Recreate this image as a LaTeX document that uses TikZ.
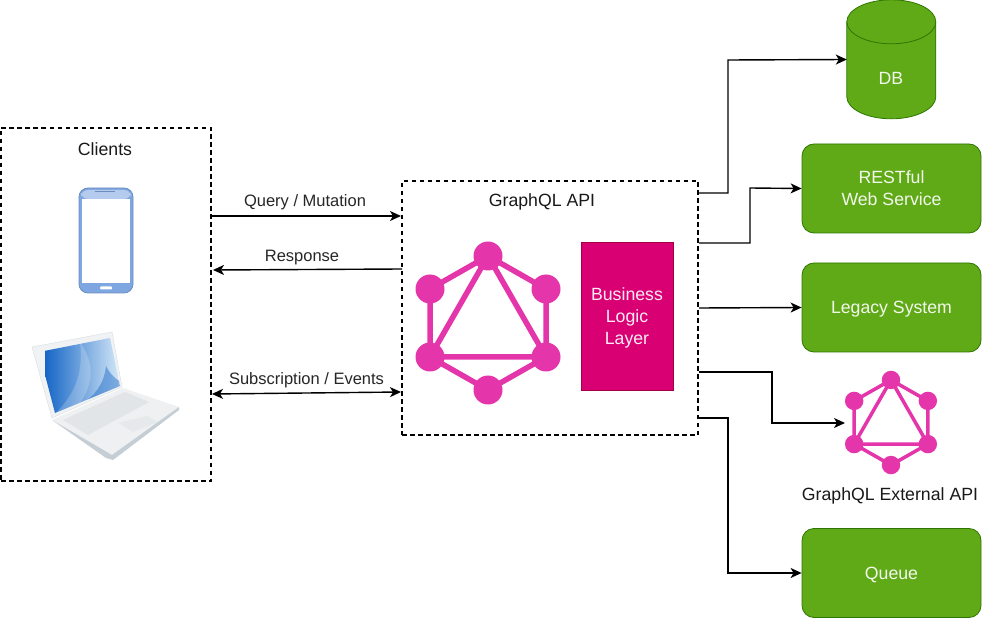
\documentclass[tikz,border=0pt]{standalone}
\usepackage{fontspec}
\setmainfont{Liberation Sans}
\usetikzlibrary{arrows.meta}
\definecolor{gqlpink}{HTML}{E535AB}
\definecolor{logicfill}{HTML}{D80073}
\definecolor{logicline}{HTML}{A50040}
\definecolor{svcfill}{HTML}{60A917}
\definecolor{svcline}{HTML}{2D7600}
\definecolor{phonefill}{HTML}{7EA6E0}
\definecolor{phoneline}{HTML}{6C8EBF}
\definecolor{phonetop}{HTML}{B4CBEE}
\definecolor{lidcol}{HTML}{F0F2F4}
\definecolor{basecol}{HTML}{EEF0F2}
\definecolor{keycol}{HTML}{E1E5E8}
\definecolor{padcol}{HTML}{E6E9EB}
\definecolor{rimcol}{HTML}{C5CED5}
\definecolor{screendark}{HTML}{1666C6}
\definecolor{screenlight}{HTML}{CFE4F6}
\definecolor{screenmid}{HTML}{8CCBEA}
\newcommand{\logolw}{5.5pt}
\tikzset{
  dashbox/.style={draw=black,line width=1.1pt,dash pattern=on 4.5pt off 3.5pt},
  title/.style={font=\fontsize{17.7}{22}\selectfont,text=black!90},
  lbl/.style={font=\fontsize{16.5}{20}\selectfont,text=black!85},
  whitetxt/.style={font=\fontsize{17.7}{22}\selectfont,text=white!92!svcfill,align=center,text depth=0pt},
  service/.style={whitetxt,draw=svcline,fill=svcfill,rounded corners=12pt,line width=.8pt,minimum width=179pt,minimum height=89pt,inner sep=0pt},
  conn/.style={draw=black,line width=1.4pt},
  gqlogo/.pic={
    \coordinate (-a) at (0,-67); \coordinate (-b) at (58,-34); \coordinate (-c) at (58,34);
    \coordinate (-d) at (0,67); \coordinate (-e) at (-58,34); \coordinate (-f) at (-58,-34);
    \draw[draw=gqlpink,line width=\logolw,line join=round] (-a) -- (-b) -- (-c) -- (-d) -- (-e) -- (-f) -- cycle;
    \draw[draw=gqlpink,line width=\logolw,line join=round] (-a) -- (-c) -- (-e) -- cycle;
    \foreach \v in {a,b,c,d,e,f} \fill[gqlpink] (-\v) circle (14.5);
  }
}
\begin{document}
\begin{tikzpicture}[x=1pt,y=-1pt,>={Stealth[length=11pt,width=10pt,inset=3pt]}]
\useasboundingbox (0,0) rectangle (983,620);
% clients
\node[dashbox,minimum width=210pt,minimum height=353pt,inner sep=0pt] (clients) at (106,304.5) {};
\node[title] (clientsTitle) at (105,149) {Clients};
\node[draw=phoneline,fill=phonefill,rounded corners=9pt,line width=.8pt,minimum width=54pt,minimum height=105pt,inner sep=0pt] (phone) at (106,240.5) {};
\fill[phonetop,rounded corners=7pt] (81,199) -- (81,190) -- (131,190) -- (131,199) -- cycle;
\node[fill=white,minimum width=47.5pt,minimum height=84pt,inner sep=0pt] (phoneScreen) at (106,241) {};
\node[fill=white,rounded corners=1pt,minimum width=12pt,minimum height=3pt,inner sep=0pt] (phoneButton) at (106,288) {};
\node[fill=phoneline,minimum width=20pt,minimum height=1.5pt,inner sep=0pt] (phoneSpeaker) at (105,191.5) {};
% laptop
\fill[basecol] (52,420) -- (123,388) -- (179,407) -- (112,458) -- cycle;
\fill[rimcol] (179,407) -- (179,410) -- (113,460) -- (106,458) -- (52,420) -- (112,455) -- cycle;
\fill[keycol] (63,420) -- (125,392) -- (149,402) -- (88,435) -- cycle;
\fill[padcol] (118,423) -- (147,416) -- (158,422) -- (133,432) -- cycle;
\fill[lidcol,draw=rimcol!60,line width=.5pt] (32,347) -- (112,332) -- (122,387) -- (52,418) -- cycle;
\begin{scope}
\clip (39,352) -- (110,338) -- (120,386) -- (55,413) -- cycle;
\shade[left color=screendark,middle color=screenmid,right color=screenlight] (45,332) rectangle (118,415);
\fill[screendark,opacity=.45] (120,388) -- (82,404) .. controls (94,396) and (104,385) .. (106,366) .. controls (110,374) and (116,380) .. (122,382) -- cycle;
\fill[white,opacity=.2] (56,413) .. controls (72,396) and (84,378) .. (80,342) .. controls (96,365) and (92,385) .. (80,403) -- cycle;
\end{scope}
% api
\node[dashbox,minimum width=296pt,minimum height=254pt,inner sep=0pt] (api) at (550,308) {};
\node[title] (apiTitle) at (542,202) {GraphQL API};
\pic (logoMain) at (488,323) {gqlogo};
\node[whitetxt,draw=logicline,fill=logicfill,minimum width=92pt,minimum height=148pt,inner sep=0pt,text=white!92!logicfill] (logic) at (627,316) {Business\\Logic\\Layer};
% backends
\node[minimum width=89pt,minimum height=119pt,inner sep=0pt] (db) at (891.5,59.5) {};
\filldraw[draw=svcline,fill=svcfill,line width=.8pt] (db.north west) ++(0,22) arc[start angle=180,end angle=0,x radius=44.5,y radius=-22] -- ++(0,75) arc[start angle=0,end angle=-180,x radius=44.5,y radius=-22] -- cycle;
\draw[draw=svcline,line width=.8pt] (db.north west) ++(0,22) arc[start angle=180,end angle=360,x radius=44.5,y radius=-22];
\node[whitetxt] (dbLbl) at (891,78.5) {DB};
\node[service] (rest) at (891.5,188.5) {RESTful\\Web Service};
\node[service] (legacy) at (891.5,307.5) {Legacy System};
\renewcommand{\logolw}{3.5pt}
\pic[scale=.635] (logoExt) at (891,422.5) {gqlogo};
\node[title] (extTitle) at (890,496) {GraphQL External API};
\node[service] (queue) at (891.5,573) {Queue};
\coordinate (extIn) at (845,423);
% client arrows
\coordinate (qA) at (212,216); \coordinate (qB) at (401,216);
\coordinate (rA) at (402,269); \coordinate (rB) at (213,270);
\coordinate (sA) at (212,394); \coordinate (sB) at (401,392);
\draw[conn,->] (qA) -- node[lbl,above=2pt,xshift=-1.5pt] (queryLbl) {Query / Mutation} (qB);
\draw[conn,->] (rA) -- node[lbl,above=1pt,xshift=-5.5pt] (respLbl) {Response} (rB);
\draw[conn,<->] (sA) -- node[lbl,above=1pt] (subLbl) {Subscription / Events} (sB);
% backend arrows
\coordinate (o1) at (699,193); \coordinate (o2) at (699,243); \coordinate (o3) at (699,308);
\coordinate (o4) at (699,372); \coordinate (o5) at (699,418);
\draw[conn,->] (o1) -- (728,193) -- (728,60) -- (db.west);
\draw[conn,->] (o2) -- (750,243) -- (750,188) -- (rest.west);
\draw[conn,->] (o3) -- (legacy.west);
\draw[conn,->] (o4) -- (772,372) -- (772,423) -- (extIn);
\draw[conn,->] (o5) -- (728,418) -- (728,573) -- (queue.west);
\end{tikzpicture}
\end{document}
